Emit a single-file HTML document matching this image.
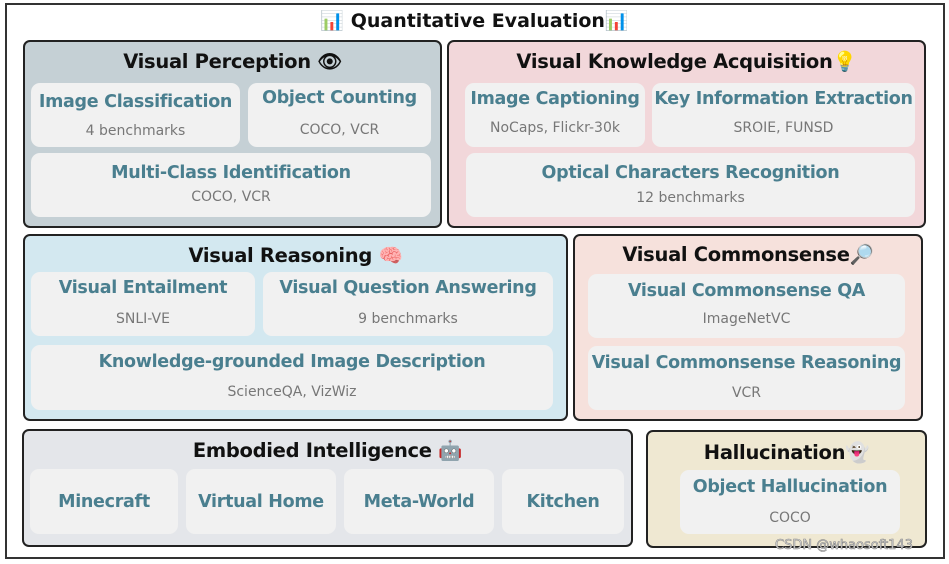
<!DOCTYPE html>
<html><head><meta charset="utf-8"><style>
body{margin:0;width:949px;height:564px;background:#fff;font-family:"DejaVu Sans","Liberation Sans",sans-serif;position:relative;overflow:hidden}
.outer{position:absolute;left:5px;top:3px;width:936px;height:552px;border:2px solid #333;}
.t{position:absolute;left:0;width:949px;top:9px;text-align:center;font-weight:bold;font-size:19px;color:#111}
.box{position:absolute;border:2px solid #222;border-radius:7px;box-sizing:border-box}
.h{position:absolute;left:0;right:0;text-align:center;font-weight:bold;font-size:19.5px;color:#111;letter-spacing:-0.3px}
.c{position:absolute;background:#f1f1f1;border-radius:9px;text-align:center}
.c b{display:block;color:#4a7f8f;font-size:17.5px;letter-spacing:-0.3px;margin-top:9px;line-height:22px}
.c span{display:block;color:#777;font-size:14px;margin-top:9px;line-height:16px}
.ei b{margin-top:21px}
</style></head><body>
<div class="outer"></div>
<div class="t">📊 Quantitative Evaluation📊</div>

<div class="box" style="left:23px;top:40px;width:419px;height:188px;background:#c5d0d5">
<div class="h" style="top:8px">Visual Perception 👁</div></div>
<div class="c" style="left:31px;top:83px;width:209px;height:64px"><b style="margin-top:8px">Image Classification</b><span style="margin-top:10px">4 benchmarks</span></div>
<div class="c" style="left:248px;top:83px;width:183px;height:64px"><b style="margin-top:4px">Object Counting</b><span style="margin-top:13px">COCO, VCR</span></div>
<div class="c" style="left:31px;top:153px;width:400px;height:64px"><b>Multi-Class Identification</b><span style="margin-top:5px">COCO, VCR</span></div>

<div class="box" style="left:447px;top:40px;width:479px;height:188px;background:#f2d7da">
<div class="h" style="top:8px">Visual Knowledge Acquisition💡</div></div>
<div class="c" style="left:465px;top:83px;width:180px;height:64px"><b style="margin-top:5px">Image Captioning</b><span style="margin-top:10px">NoCaps, Flickr-30k</span></div>
<div class="c" style="left:652px;top:83px;width:263px;height:64px"><b style="margin-top:5px">Key Information Extraction</b><span style="margin-top:10px">SROIE, FUNSD</span></div>
<div class="c" style="left:466px;top:153px;width:449px;height:64px"><b>Optical Characters Recognition</b><span style="margin-top:6px">12 benchmarks</span></div>

<div class="box" style="left:23px;top:234px;width:545px;height:187px;background:#d3e8f0">
<div class="h" style="top:8px">Visual Reasoning 🧠</div></div>
<div class="c" style="left:31px;top:272px;width:224px;height:64px"><b style="margin-top:5px">Visual Entailment</b><span style="margin-top:12px">SNLI-VE</span></div>
<div class="c" style="left:263px;top:272px;width:290px;height:64px"><b style="margin-top:5px">Visual Question Answering</b><span style="margin-top:12px">9 benchmarks</span></div>
<div class="c" style="left:31px;top:345px;width:522px;height:65px"><b style="margin-top:6px">Knowledge-grounded Image Description</b><span style="margin-top:11px">ScienceQA, VizWiz</span></div>

<div class="box" style="left:573px;top:234px;width:350px;height:187px;background:#f6e1dc">
<div class="h" style="top:7px">Visual Commonsense🔎</div></div>
<div class="c" style="left:588px;top:274px;width:317px;height:64px"><b style="margin-top:6px">Visual Commonsense QA</b><span style="margin-top:9px">ImageNetVC</span></div>
<div class="c" style="left:588px;top:346px;width:317px;height:64px"><b style="margin-top:6px">Visual Commonsense Reasoning</b><span style="margin-top:11px">VCR</span></div>

<div class="box" style="left:22px;top:429px;width:611px;height:118px;background:#e4e6ea">
<div class="h" style="top:8px">Embodied Intelligence 🤖</div></div>
<div class="c ei" style="left:30px;top:469px;width:148px;height:65px"><b style="margin-top:22px">Minecraft</b></div>
<div class="c ei" style="left:186px;top:469px;width:150px;height:65px"><b style="margin-top:22px">Virtual Home</b></div>
<div class="c ei" style="left:344px;top:469px;width:150px;height:65px"><b style="margin-top:22px">Meta-World</b></div>
<div class="c ei" style="left:502px;top:469px;width:122px;height:65px"><b style="margin-top:22px">Kitchen</b></div>

<div class="box" style="left:646px;top:430px;width:281px;height:118px;background:#efe8d2">
<div class="h" style="top:9px">Hallucination👻</div></div>
<div class="c" style="left:680px;top:470px;width:220px;height:64px"><b style="margin-top:6px">Object Hallucination</b><span style="margin-top:12px">COCO</span></div>

<div style="position:absolute;left:775px;top:538px;font-size:13px;color:#ddd;-webkit-text-stroke:0.6px #888">CSDN @whaosoft143</div>
</body></html>
